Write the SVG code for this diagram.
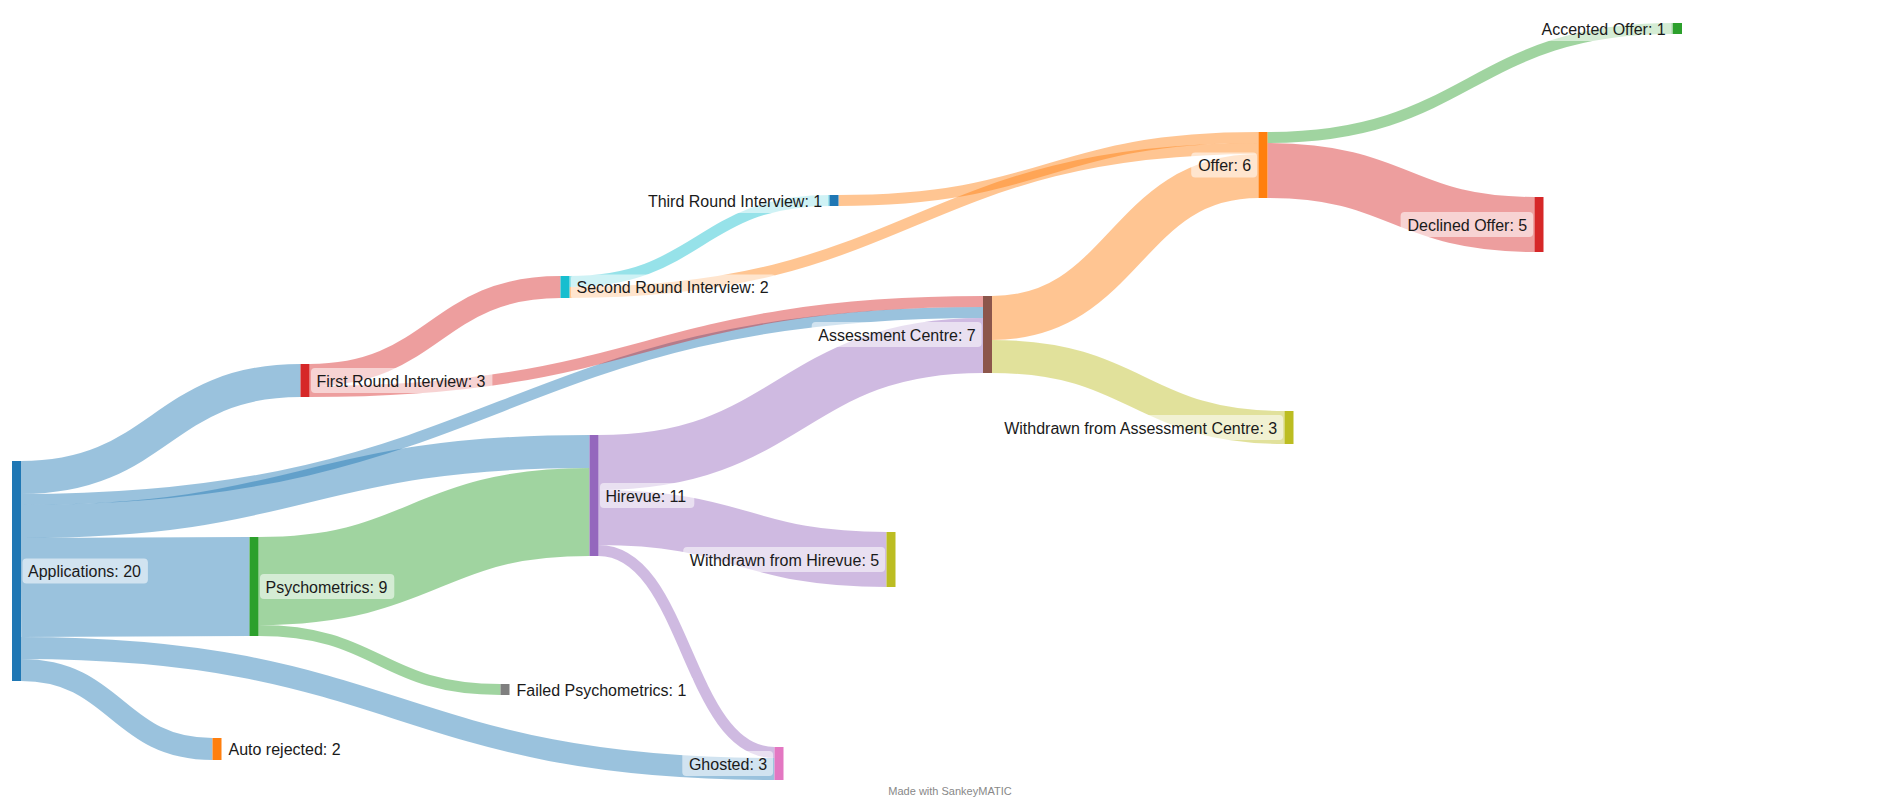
<svg xmlns="http://www.w3.org/2000/svg" width="1900" height="800" viewBox="0 0 1900 800">
<style>
.lk{fill:none;stroke-opacity:0.45}
.blue{stroke:#1f77b4}.red{stroke:#d62728}.green{stroke:#2ca02c}.cyan{stroke:#17becf}.orange{stroke:#ff7f0e}.purple{stroke:#9467bd}.olive{stroke:#bcbd22}
.hl{fill:#ffffff;fill-opacity:0.55}
.lb{font-family:"Liberation Sans",Arial,sans-serif;font-size:16px;fill:#1a1a1a}
.e{text-anchor:end}
.credit{font-family:"Liberation Sans",Arial,sans-serif;font-size:11px;fill:#888888;text-anchor:middle}
</style>
<rect x="0" y="0" width="1900" height="800" fill="#ffffff"/>
<g id="links">
<path class="lk blue" stroke-width="33" d="M21,477.5 C160.75,477.5 160.75,380.5 300.5,380.5"/>
<path class="lk blue" stroke-width="11" d="M21,499.5 C502,499.5 502,312.5 983,312.5"/>
<path class="lk blue" stroke-width="33" d="M21,521.5 C305.25,521.5 305.25,451.5 589.5,451.5"/>
<path class="lk blue" stroke-width="99" d="M21,587.5 C135.25,587.5 135.25,586.5 249.5,586.5"/>
<path class="lk blue" stroke-width="22" d="M21,648 C397.75,648 397.75,769 774.5,769"/>
<path class="lk blue" stroke-width="22" d="M21,670 C116.75,670 116.75,749 212.5,749"/>
<path class="lk red" stroke-width="22" d="M309.5,375 C435,375 435,287 560.5,287"/>
<path class="lk red" stroke-width="11" d="M309.5,391.5 C646.25,391.5 646.25,301.5 983,301.5"/>
<path class="lk green" stroke-width="88" d="M258.5,581 C424,581 424,512 589.5,512"/>
<path class="lk green" stroke-width="11" d="M258.5,630.5 C379.5,630.5 379.5,689.5 500.5,689.5"/>
<path class="lk cyan" stroke-width="11" d="M569.5,281.5 C699.5,281.5 699.5,200.5 829.5,200.5"/>
<path class="lk orange" stroke-width="11" d="M569.5,292.5 C914,292.5 914,148.5 1258.5,148.5"/>
<path class="lk purple" stroke-width="55" d="M598.5,462.5 C790.75,462.5 790.75,345.5 983,345.5"/>
<path class="lk purple" stroke-width="55" d="M598.5,517.5 C742.5,517.5 742.5,559.5 886.5,559.5"/>
<path class="lk purple" stroke-width="11" d="M598.5,550.5 C686.5,550.5 686.5,752.5 774.5,752.5"/>
<path class="lk orange" stroke-width="11" d="M838.5,200.5 C1048.5,200.5 1048.5,137.5 1258.5,137.5"/>
<path class="lk orange" stroke-width="44" d="M992,318 C1125.25,318 1125.25,176 1258.5,176"/>
<path class="lk olive" stroke-width="33" d="M992,356.5 C1138.25,356.5 1138.25,427.5 1284.5,427.5"/>
<path class="lk green" stroke-width="11" d="M1267.5,137.5 C1470.25,137.5 1470.25,28.5 1673,28.5"/>
<path class="lk red" stroke-width="55" d="M1267.5,170.5 C1401,170.5 1401,224.5 1534.5,224.5"/>
</g>
<g id="node-applications">
<rect x="12" y="461" width="9" height="220" fill="#1f77b4"/>
<rect class="hl" x="22.5" y="558.5" width="125.4" height="25" rx="4"/>
<text class="lb" x="28" y="577">Applications: 20</text>
</g>
<g id="node-psychometrics">
<rect x="249.5" y="537" width="9" height="99" fill="#2ca02c"/>
<rect class="hl" x="260" y="574" width="134.3" height="25" rx="4"/>
<text class="lb" x="265.5" y="592.5">Psychometrics: 9</text>
</g>
<g id="node-first-round">
<rect x="300.5" y="364" width="9" height="33" fill="#d62728"/>
<rect class="hl" x="311" y="368" width="181.4" height="25" rx="4"/>
<text class="lb" x="316.5" y="386.5">First Round Interview: 3</text>
</g>
<g id="node-auto-rejected">
<rect x="212.5" y="738" width="9" height="22" fill="#ff7f0e"/>
<rect class="hl" x="223" y="736.5" width="124.6" height="25" rx="4"/>
<text class="lb" x="228.5" y="755">Auto rejected: 2</text>
</g>
<g id="node-second-round">
<rect x="560.5" y="276" width="9" height="22" fill="#17becf"/>
<rect class="hl" x="571" y="274.5" width="204.7" height="25" rx="4"/>
<text class="lb" x="576.5" y="293">Second Round Interview: 2</text>
</g>
<g id="node-hirevue">
<rect x="589.5" y="435" width="9" height="121" fill="#9467bd"/>
<rect class="hl" x="600" y="483" width="94.3" height="25" rx="4"/>
<text class="lb" x="605.5" y="501.5">Hirevue: 11</text>
</g>
<g id="node-failed-psychometrics">
<rect x="500.5" y="684" width="9" height="11" fill="#7f7f7f"/>
<rect class="hl" x="511" y="677" width="182.3" height="25" rx="4"/>
<text class="lb" x="516.5" y="695.5">Failed Psychometrics: 1</text>
</g>
<g id="node-third-round">
<rect x="829.5" y="195" width="9" height="11" fill="#1f77b4"/>
<rect class="hl" x="641.3" y="188" width="186.8" height="25" rx="4"/>
<text class="lb e" x="822.2" y="206.5">Third Round Interview: 1</text>
</g>
<g id="node-assessment-centre">
<rect x="983" y="296" width="9" height="77" fill="#8c564b"/>
<rect class="hl" x="811.7" y="322" width="169.9" height="25" rx="4"/>
<text class="lb e" x="975.7" y="340.5">Assessment Centre: 7</text>
</g>
<g id="node-withdrawn-hirevue">
<rect x="886.5" y="532" width="9" height="55" fill="#bcbd22"/>
<rect class="hl" x="683.2" y="547" width="201.9" height="25" rx="4"/>
<text class="lb e" x="879.2" y="565.5">Withdrawn from Hirevue: 5</text>
</g>
<g id="node-ghosted">
<rect x="774.5" y="747" width="9" height="33" fill="#e377c2"/>
<rect class="hl" x="682.3" y="751" width="90.8" height="25" rx="4"/>
<text class="lb e" x="767.2" y="769.5">Ghosted: 3</text>
</g>
<g id="node-offer">
<rect x="1258.5" y="132" width="9" height="66" fill="#ff7f0e"/>
<rect class="hl" x="1191.2" y="152.5" width="65.9" height="25" rx="4"/>
<text class="lb e" x="1251.2" y="171">Offer: 6</text>
</g>
<g id="node-withdrawn-ac">
<rect x="1284.5" y="411" width="9" height="33" fill="#bcbd22"/>
<rect class="hl" x="996.7" y="415" width="286.4" height="25" rx="4"/>
<text class="lb e" x="1277.2" y="433.5">Withdrawn from Assessment Centre: 3</text>
</g>
<g id="node-declined">
<rect x="1534.5" y="197" width="9" height="55" fill="#d62728"/>
<rect class="hl" x="1400.6" y="212" width="132.5" height="25" rx="4"/>
<text class="lb e" x="1527.2" y="230.5">Declined Offer: 5</text>
</g>
<g id="node-accepted">
<rect x="1673" y="23" width="9" height="11" fill="#2ca02c"/>
<rect class="hl" x="1534.6" y="16" width="137" height="25" rx="4"/>
<text class="lb e" x="1665.7" y="34.5">Accepted Offer: 1</text>
</g>
<text class="credit" x="950" y="795">Made with SankeyMATIC</text>
</svg>
